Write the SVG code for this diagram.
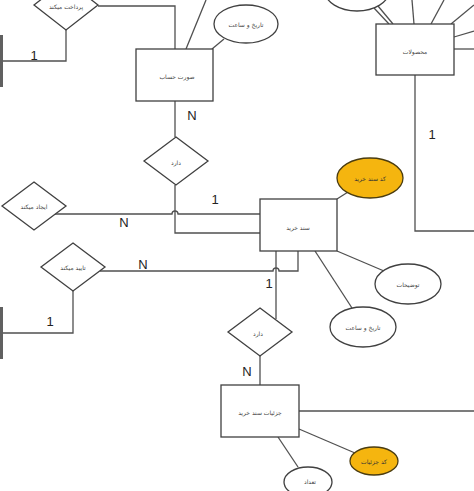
<svg xmlns="http://www.w3.org/2000/svg" width="474" height="491" viewBox="0 0 474 491">
<style>
.ln{fill:none;stroke:#505050;stroke-width:1.3}
.bar{stroke:#606060;stroke-width:3}
.box{fill:#fff;stroke:#404040;stroke-width:1.3}
.ell{fill:#fff;stroke:#404040;stroke-width:1.3}
.key{fill:#F5B50F;stroke:#4a3c10;stroke-width:1.3}
.t{font-family:"DejaVu Sans",sans-serif;font-size:6px;fill:#444;text-anchor:middle;dominant-baseline:central}
.c{font-family:"Liberation Sans",sans-serif;font-size:13px;fill:#222;text-anchor:middle;dominant-baseline:central}
</style>
<rect width="474" height="491" fill="#fff"/>
<g id="connectors">
<path class="ln" d="M98,6 H175 V49"/>
<path class="ln" d="M66,30 V61 H0"/>
<line class="bar" x1="1.5" y1="35" x2="1.5" y2="87"/>
<path class="ln" d="M186,49 L206,0"/>
<path class="ln" d="M212,49 L224,39"/>
<path class="ln" d="M175,101 V137"/>
<path class="ln" d="M175,185 V233 H260"/>
<path class="ln" d="M55,214 H172 A3,3 0 0 1 178,214 H260"/>
<path class="ln" d="M337,199 L348,192"/>
<path class="ln" d="M100,271 H273 A3,3 0 0 1 279,271 H298 V251"/>
<path class="ln" d="M276,251 V319"/>
<path class="ln" d="M337,251 L384,271"/>
<path class="ln" d="M315,251 L352,308"/>
<path class="ln" d="M73,291 V333 H0"/>
<line class="bar" x1="1.5" y1="307" x2="1.5" y2="359"/>
<path class="ln" d="M260,356 V385"/>
<path class="ln" d="M299,411 H474"/>
<path class="ln" d="M299,429 L355,453"/>
<path class="ln" d="M278,437 L298,467"/>
<path class="ln" d="M374,8 L389,24"/>
<path class="ln" d="M378,6 L393,24"/>
<path class="ln" d="M412,0 L414,24"/>
<path class="ln" d="M444,0 L431,24"/>
<path class="ln" d="M474,5 L451,24"/>
<path class="ln" d="M474,31 L454,37"/>
<path class="ln" d="M454,49 H474"/>
<path class="ln" d="M415,75 V231 H474"/>
<text class="c" x="34" y="55">1</text>
<text class="c" x="192" y="115">N</text>
<text class="c" x="432" y="134">1</text>
<text class="c" x="215" y="199">1</text>
<text class="c" x="124" y="222">N</text>
<text class="c" x="143" y="264">N</text>
<text class="c" x="269" y="283">1</text>
<text class="c" x="50" y="321">1</text>
<text class="c" x="247" y="371">N</text>
</g>
<g id="pays">
<polygon class="box" points="66,-20 98,5 66,30 34,5"/>
<text class="t" x="66" y="6">پرداخت میکند</text>
</g>
<g id="invoice">
<rect class="box" x="136" y="49" width="77" height="52"/>
<text class="t" x="177" y="76">صورت حساب</text>
</g>
<g id="invoice-datetime">
<ellipse class="ell" cx="246" cy="24" rx="32" ry="19"/>
<text class="t" x="246" y="24">تاریخ و ساعت</text>
</g>
<g id="product-attr">
<ellipse class="ell" cx="357" cy="-9" rx="32" ry="20"/>
</g>
<g id="products">
<rect class="box" x="376" y="24" width="78" height="51"/>
<text class="t" x="415" y="51">محصولات</text>
</g>
<g id="has1">
<polygon class="box" points="176,137 208,161 176,185 144,161"/>
<text class="t" x="176" y="162">دارد</text>
</g>
<g id="creates">
<polygon class="box" points="34,182 66,206 34,230 2,206"/>
<text class="t" x="34" y="206">ایجاد میکند</text>
</g>
<g id="doc-code">
<ellipse class="key" cx="370" cy="178" rx="33" ry="20"/>
<text class="t" x="370" y="178" style="fill:#333">کد سند خرید</text>
</g>
<g id="purchase-doc">
<rect class="box" x="260" y="199" width="77" height="52"/>
<text class="t" x="298" y="227">سند خرید</text>
</g>
<g id="approves">
<polygon class="box" points="73,243 105,267 73,291 41,267"/>
<text class="t" x="73" y="267">تایید میکند</text>
</g>
<g id="description">
<ellipse class="ell" cx="408" cy="284" rx="33" ry="20"/>
<text class="t" x="408" y="284">توضیحات</text>
</g>
<g id="doc-datetime">
<ellipse class="ell" cx="363" cy="327" rx="33" ry="20"/>
<text class="t" x="363" y="327">تاریخ و ساعت</text>
</g>
<g id="has2">
<polygon class="box" points="260,308 292,332 260,356 228,332"/>
<text class="t" x="258" y="333">دارد</text>
</g>
<g id="doc-details">
<rect class="box" x="221" y="385" width="78" height="52"/>
<text class="t" x="260" y="412">جزئیات سند خرید</text>
</g>
<g id="detail-code">
<ellipse class="key" cx="374" cy="461" rx="24" ry="14"/>
<text class="t" x="374" y="461" style="fill:#333">کد جزئیات</text>
</g>
<g id="quantity">
<ellipse class="ell" cx="308" cy="482" rx="24" ry="15"/>
<text class="t" x="310" y="481">تعداد</text>
</g>
</svg>
